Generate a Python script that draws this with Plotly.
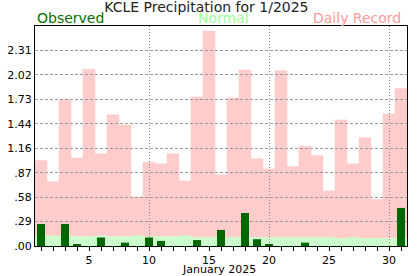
import plotly.graph_objects as go

days = list(range(1, 32))
record = [1.01, 0.76, 1.73, 1.04, 2.09, 1.09, 1.55, 1.43, 0.58, 0.99, 0.97, 1.09, 0.77, 1.76, 2.54, 0.84,
          1.75, 2.08, 1.03, 0.91, 2.07, 0.94, 1.18, 1.07, 0.65, 1.49, 0.97, 1.28, 0.55, 1.56, 1.86]
normal = [0.12, 0.12, 0.12, 0.11, 0.11, 0.12, 0.11, 0.11, 0.12, 0.11, 0.11, 0.11, 0.12, 0.10, 0.10, 0.10,
          0.10, 0.10, 0.10, 0.10, 0.10, 0.10, 0.10, 0.10, 0.10, 0.09, 0.10, 0.09, 0.09, 0.09, 0.09]
observed = [0.26, 0, 0.26, 0.02, 0, 0.10, 0, 0.04, 0, 0.10, 0.06, 0, 0, 0.07, 0, 0.19,
            0, 0.39, 0.08, 0.015, 0, 0, 0.04, 0, 0, 0, 0, 0, 0, 0, 0.45]
y_max = 2.6
y_ticks = [y_max * k / 9 for k in range(0, 9)]
y_ticktext = [("%.2f" % v).lstrip("0") if v < 1 else "%.2f" % v for v in y_ticks]
x_ticktext = [str(d) if d % 5 == 0 else "" for d in days]
x_grid = [10, 20, 30]
x_title = "January 2025"

FONT = "DejaVu Sans"

fig = go.Figure()
fig.add_trace(go.Bar(x=days, y=record, width=1.0,
                     marker=dict(color="#ffcccc", line=dict(width=0.6, color="#ffcccc")),
                     xaxis="x", yaxis="y", name="Daily Record"))
fig.add_trace(go.Bar(x=days, y=normal, width=1.0,
                     marker=dict(color="#ccffcc", line=dict(width=0.6, color="#ccffcc")),
                     xaxis="x", yaxis="y", name="Normal"))
fig.add_trace(go.Bar(x=days, y=observed, width=0.67, marker=dict(color="#006600", line=dict(width=0)),
                     xaxis="x2", yaxis="y2", name="Observed"))

fig.update_layout(
    width=417, height=276,
    margin=dict(l=35, r=10, t=26, b=30),
    paper_bgcolor="white", plot_bgcolor="rgba(0,0,0,0)",
    barmode="overlay", showlegend=False,
    font=dict(family=FONT, size=11, color="black"),
    title=dict(text="KCLE Precipitation for 1/2025", x=0.495, xanchor="center",
               y=1 - 7 / 276, yanchor="middle", yref="container",
               font=dict(family=FONT, size=14, color="#222222")),
    xaxis=dict(domain=[0, 1], range=[0.5, 31.5], tickvals=days, ticktext=x_ticktext,
               ticks="outside", ticklen=4, tickcolor="black", tickwidth=1, automargin=False,
               showgrid=False, zeroline=False, showline=True, linecolor="black", linewidth=1,
               mirror=True, tickfont=dict(size=11)),
    yaxis=dict(domain=[0, 1], range=[0, y_max], tickvals=y_ticks, ticktext=y_ticktext,
               ticks="", showgrid=False, zeroline=False, showline=True, linecolor="black",
               linewidth=1, mirror=True, tickfont=dict(size=11), automargin=False),
    xaxis2=dict(domain=[0, 1], range=[0.5, 31.5], anchor="y2", tickvals=x_grid,
                showticklabels=False, ticks="", showgrid=True, gridcolor="#888888",
                griddash="1px,2px", gridwidth=1, zeroline=False, showline=False, automargin=False),
    yaxis2=dict(domain=[0, 1], range=[0, y_max], anchor="x2", tickvals=y_ticks[1:],
                showticklabels=False, ticks="", showgrid=True, gridcolor="#999999",
                griddash="3px,2px", gridwidth=1, zeroline=False, showline=False, automargin=False),
)

fig.add_annotation(text=x_title, xref="paper", yref="paper", x=(218.7 - 35) / 372, xanchor="center",
                   y=-23 / 220, yanchor="middle", showarrow=False,
                   font=dict(family=FONT, size=11, color="black"))
fig.add_annotation(text="Observed", xref="paper", yref="paper", x=0, xanchor="left",
                   y=1 + 7.5 / 220, yanchor="middle", showarrow=False,
                   font=dict(family=FONT, size=14, color="#007000"))
fig.add_annotation(text="Normal", xref="paper", yref="paper", x=(223.5 - 35) / 372, xanchor="center",
                   y=1 + 7.5 / 220, yanchor="middle", showarrow=False,
                   font=dict(family=FONT, size=14, color="#99ff99"))
fig.add_annotation(text="Daily Record", xref="paper", yref="paper", x=(403 - 35) / 372, xanchor="right",
                   y=1 + 7.5 / 220, yanchor="middle", showarrow=False,
                   font=dict(family=FONT, size=14, color="#ff9999"))

fig.write_html("out.html")
